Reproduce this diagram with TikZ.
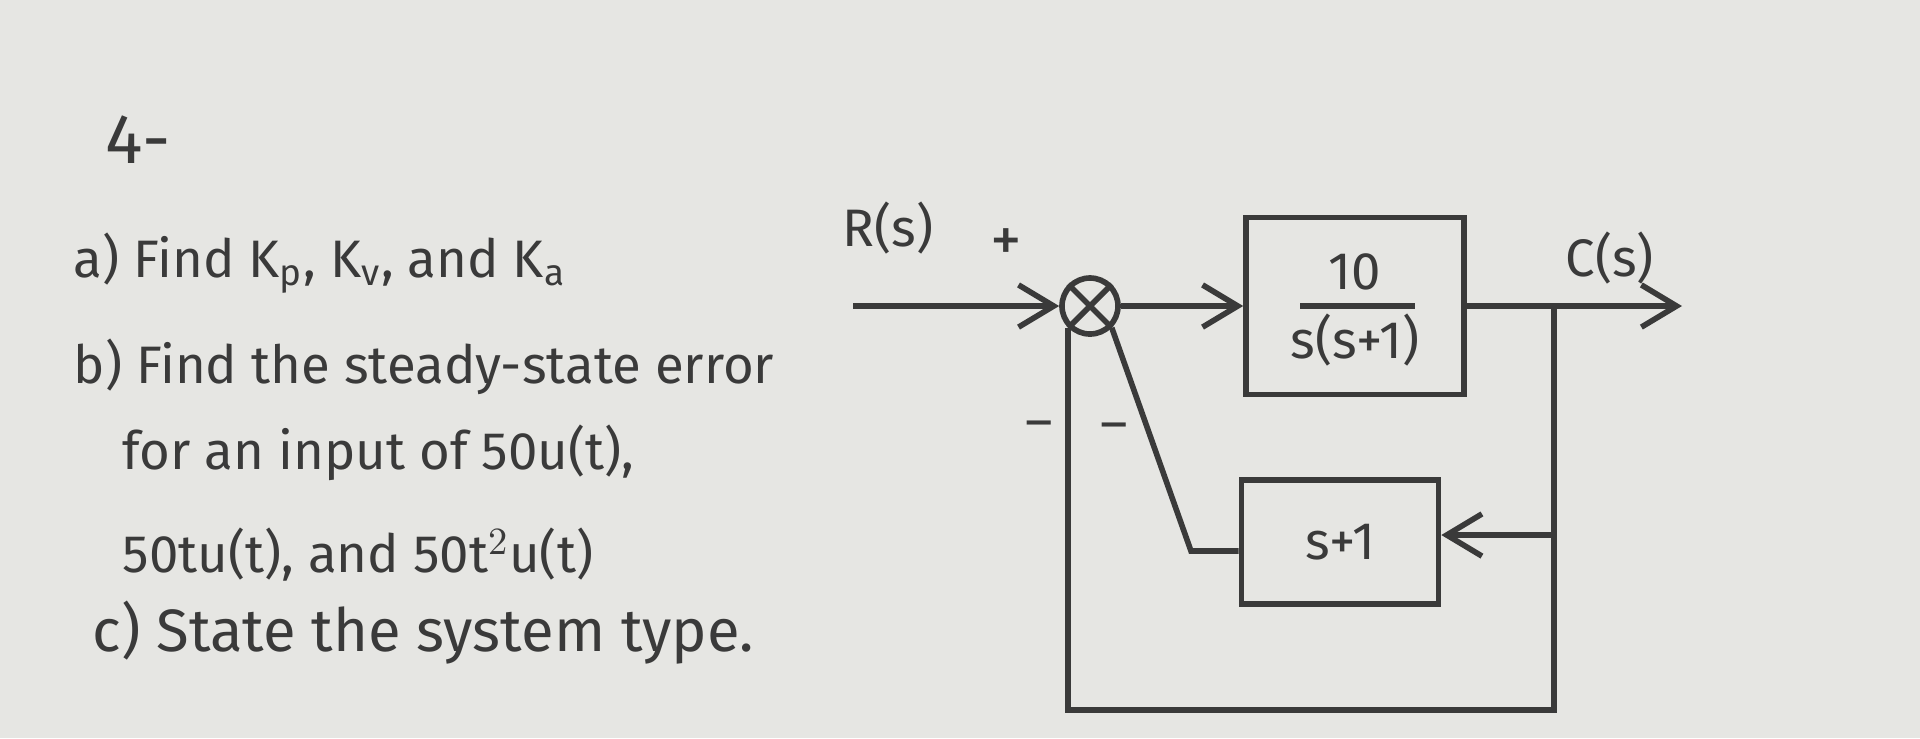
\documentclass[tikz,border=0pt]{standalone}
\usepackage{fontspec}
\setmainfont{Fira Sans}
\usetikzlibrary{arrows.meta}
\definecolor{paper}{HTML}{E6E6E3}
\definecolor{ink}{HTML}{3A3A3A}
\begin{document}
\begin{tikzpicture}[x=0.01cm,y=-0.01cm,
  txt/.style={anchor=west,inner sep=0pt,text=ink,font=\fontsize{15}{18}\selectfont},
  blk/.style={draw=ink,line width=1.6pt,minimum width=#1,inner sep=0pt},
  wire/.style={draw=ink,line width=1.6pt},
  arr/.style={wire,-{Straight Barb[length=10pt,width=12pt]}}]
\fill[paper] (0,0) rectangle (1920,738);
\useasboundingbox (0,0) rectangle (1920,738);
\node[txt,font=\fontsize{20}{24}\selectfont] (n4) at (105,140) {4-};
\node[txt] (ta) at (73,263) {a) Find K$_\mathrm{p}$, K$_\mathrm{v}$, and K$_\mathrm{a}$};
\node[txt] (tb) at (73,367) {b) Find the steady-state error};
\node[txt] (tc) at (122,453) {for an input of 50u(t),};
\node[txt] (td) at (122,555) {50tu(t), and 50t$^2$u(t)};
\node[txt,font=\fontsize{17}{20}\selectfont] (te) at (92,633) {c) State the system type.};
\node[txt] (rs) at (842,228) {R(s)};
\node[txt,font=\fontsize{18}{20}\selectfont] (plus) at (990,245) {+};
\node[txt] (m1) at (1025,430) {--};
\node[txt] (m2) at (1100,432) {--};
\node[txt] (cs) at (1565,258) {C(s)};
% summing junction
\node[wire,circle,minimum size=0.56cm,inner sep=0pt] (sum) at (1090,306) {};
\draw[wire] (sum.north east) -- (sum.south west) (sum.north west) -- (sum.south east);
\node[blk=218*0.01cm,minimum height=177*0.01cm] (g) at (1355,306) {};
\node[text=ink,font=\fontsize{15}{18}\selectfont] (gn) at (1355,272) {10};
\node[text=ink,font=\fontsize{15}{18}\selectfont] (gd) at (1355,340) {s(s+1)};
\draw[wire] (1300,306) -- (1415,306);
\node[blk=197*0.01cm,minimum height=124*0.01cm,text=ink,font=\fontsize{15}{18}\selectfont] (h) at (1340,542) {s+1};
\coordinate (in) at (853,306);
\coordinate (out) at (1682,306);
\coordinate (tp) at (1554,306);
\coordinate (tp2) at (1554,535);
\coordinate (bl) at (1068,710);
\coordinate (br) at (1554,710);
\coordinate (hk) at (1191,551);
\coordinate (up) at (1068,328);
\draw[arr] (in) -- (sum.west);
\draw[arr] (sum.east) -- (g.west);
\draw[arr] (g.east |- tp) -- (out);
\draw[wire] (tp) -- (br) -- (bl) -- (up);
\draw[arr] (tp2) -- (h.east |- tp2);
\draw[wire] (h.west |- hk) -- (hk) -- (sum.south east);
\end{tikzpicture}
\end{document}
